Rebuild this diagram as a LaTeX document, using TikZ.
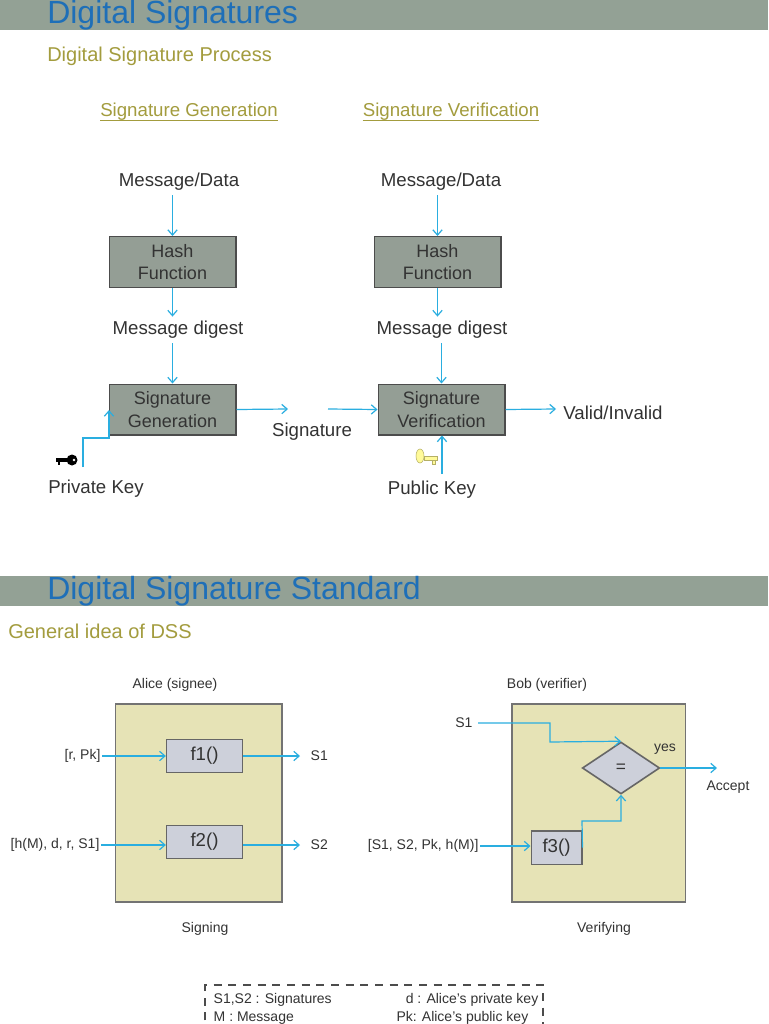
\documentclass[tikz,border=0pt]{standalone}
\usepackage{fontspec}
\setmainfont{Liberation Sans}
\usetikzlibrary{arrows.meta,shapes.geometric}
\definecolor{band}{HTML}{93A195}
\definecolor{ttl}{HTML}{1E6FB8}
\definecolor{olive}{HTML}{A39C3E}
\definecolor{cy}{HTML}{2AAEE0}
\definecolor{boxg}{HTML}{949E95}
\definecolor{pale}{HTML}{E6E3B6}
\definecolor{lil}{HTML}{CDD0DA}
\definecolor{txt}{HTML}{333333}
\begin{document}
\begin{tikzpicture}[x=0.75pt,y=-0.75pt,
  ar/.style={draw=cy,line width=0.9pt,-{Straight Barb[length=4pt,width=7pt]}},
  big/.style={font=\fontsize{14}{16}\selectfont,text=txt},
  sm/.style={font=\fontsize{10.5}{12}\selectfont,text=txt},
  gb/.style={draw=black!70,fill=boxg,line width=1pt,minimum width=95pt,minimum height=38pt,align=center,font=\fontsize{13.5}{17}\selectfont,text=txt,inner sep=0pt},
  lb/.style={draw=black!60,fill=lil,line width=1pt,font=\fontsize{14}{16}\selectfont,text=txt,inner sep=0pt},
  ttlf/.style={font=\fontsize{24}{26}\selectfont,text=ttl,anchor=west,inner sep=0pt},
  sub/.style={font=\fontsize{15}{17}\selectfont,text=olive,anchor=west,inner sep=0pt}]
\useasboundingbox (0,0) rectangle (768,1024);
\fill[white] (0,0) rectangle (768,1024);
% bands
\fill[band] (0,0) rectangle (768,30);
\fill[band] (0,576) rectangle (768,606);
\node[ttlf] (t1) at (47,15) {Digital Signatures};
\node[sub] (s1) at (47,56) {Digital Signature Process};
\node[ttlf] (t2) at (47,591) {Digital Signature Standard};
\node[sub] (s2) at (8,631) {General idea of DSS};
% process
\node[big,text=olive,inner sep=0pt] (hg) at (189,112) {Signature Generation};
\node[big,text=olive,inner sep=0pt] (hv) at (451,112) {Signature Verification};
\draw[olive,line width=0.8pt] ([yshift=-2.5pt]hg.base west) -- ([yshift=-2.5pt]hg.base east);
\draw[olive,line width=0.8pt] ([yshift=-2.5pt]hv.base west) -- ([yshift=-2.5pt]hv.base east);
\node[big] (m1) at (179,182) {Message/Data};
\node[big] (m2) at (441,182) {Message/Data};
\node[gb] (h1) at (172.5,262) {Hash\\Function};
\node[gb] (h2) at (437.5,262) {Hash\\Function};
\node[big] (d1) at (178,330) {Message digest};
\node[big] (d2) at (442,330) {Message digest};
\node[gb] (g1) at (172.5,409.5) {Signature\\Generation};
\node[gb] (g2) at (441.5,409.5) {Signature\\Verification};
\node[big] (sg) at (312,432) {Signature};
\node[big] (vi) at (613,413) {Valid/Invalid};
\node[big] (pk) at (96,489) {Private Key};
\node[big] (pu) at (432,490) {Public Key};
\coordinate (a1) at (288,409);
\coordinate (a2) at (328,409);
\coordinate (a3) at (556,409);
\coordinate (k1) at (83,467);
\coordinate (k2) at (442,474);
\draw[ar] (m1.south -| h1) -- (h1.north);
\draw[ar] (m2.south -| h2) -- (h2.north);
\draw[ar] (h1.south) -- (d1.north -| h1);
\draw[ar] (h2.south) -- (d2.north -| h2);
\draw[ar] (d1.south -| g1) -- (g1.north);
\draw[ar] (d2.south -| g2) -- (g2.north);
\draw[ar] (g1.east) -- (a1);
\draw[ar] (a2) -- (g2.west);
\draw[ar] (g2.east) -- (a3);
\draw[ar] (k1) -- (83,438) -- (109,438) -- (109,410);
\draw[ar] (k2) -- (g2.south -| k2);
% keys
\fill[black] (72,460) circle (5.5);
\fill[black] (56,458) rectangle (72,462);
\fill[black] (58,458) rectangle (60,465);
\fill[white] (74,460) circle (1.3);
\begin{scope}[shift={(425,458)}]
\draw[fill=yellow!40!white,draw=olive!80] (-5,-2) ellipse (4 and 7);
\draw[fill=yellow!40!white,draw=olive!80] (-1,-2) rectangle (12,2);
\draw[fill=yellow!40!white,draw=olive!80] (7,2) rectangle (10,6);
\end{scope}
% DSS
\node[sm] (al) at (175,685) {Alice (signee)};
\node[sm] (bo) at (547,685) {Bob (verifier)};
\node[draw=black!55,fill=pale,line width=1pt,minimum width=125pt,minimum height=148.5pt,inner sep=0pt] (ba) at (198.5,803) {};
\node[draw=black!55,fill=pale,line width=1pt,minimum width=130pt,minimum height=148.5pt,inner sep=0pt] (bb) at (598.5,803) {};
\node[lb,minimum width=57pt,minimum height=25pt] (f1) at (204.5,756) {f1()};
\node[lb,minimum width=57pt,minimum height=25pt] (f2) at (204.5,842) {f2()};
\node[lb,minimum width=38pt,minimum height=25pt] (f3) at (556.5,847.5) {f3()};
\node[diamond,draw=black!60,fill=lil,line width=1.2pt,minimum width=58pt,minimum height=39pt,inner sep=0pt,aspect=1.5,font=\fontsize{13}{15}\selectfont,text=txt] (eq) at (621,768) {=};
\node[sm,anchor=east,inner sep=1pt] (i1) at (102,756) {[r, Pk]};
\node[sm,anchor=east,inner sep=1pt] (i2) at (101,845) {[h(M), d, r, S1]};
\node[sm,anchor=west] (o1) at (306,756) {S1};
\node[sm,anchor=west] (o2) at (306,845) {S2};
\node[sm,anchor=east,inner sep=1pt] (i3) at (480,846) {[S1, S2, Pk, h(M)]};
\node[sm,anchor=east,inner sep=4pt] (i4) at (478,723) {S1};
\node[sm] (ye) at (665,749) {yes};
\node[sm] (ac) at (728,787) {Accept};
\node[sm] (sn) at (205,929) {Signing};
\node[sm] (vf) at (604,929) {Verifying};
\coordinate (o1a) at (300,756);
\coordinate (o2a) at (300,845);
\coordinate (acc) at (717,768);
\draw[ar] (i1.east) -- (f1.west |- i1.east);
\draw[ar] (i2.east) -- (f2.west |- i2.east);
\draw[ar] (f1.east |- o1a) -- (o1a);
\draw[ar] (f2.east |- o2a) -- (o2a);
\draw[ar] (i3.east) -- (f3.west |- i3.east);
\draw[ar] (i4.east) -- (550,723) -- (550,742) -- (eq.north);
\draw[ar] (f3.east) -- (582,821) -- (621,821) -- (eq.south);
\draw[ar] (eq.east) -- (acc);
% legend
\draw[draw=black!70,line width=1pt,dash pattern=on 6pt off 5pt] (205,1035) -- (205,985) -- (543,985) -- (543,1035);
\node[sm,anchor=west] (l1) at (209,1000) {S1,S2 : Signatures};
\node[sm,anchor=east] (l2) at (543,1000) {d : Alice's private key};
\node[sm,anchor=west] (l3) at (209,1018) {M : Message};
\node[sm,anchor=east] (l4) at (533,1018) {Pk: Alice's public key};
\end{tikzpicture}
\end{document}
